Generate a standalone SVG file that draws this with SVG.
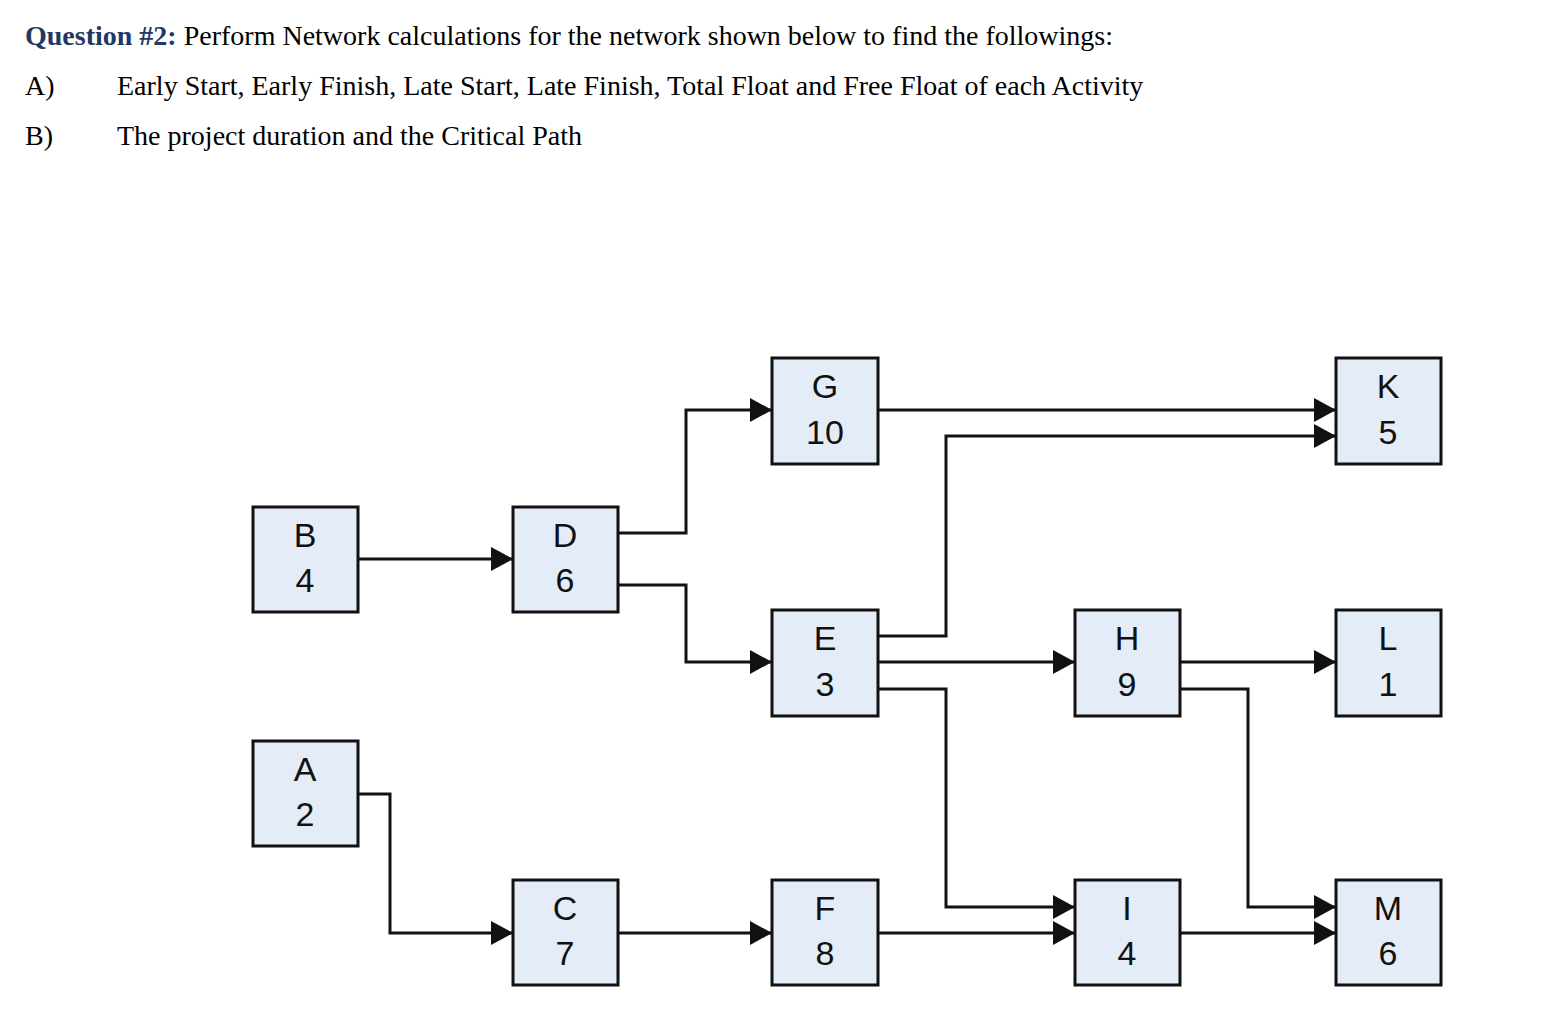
<svg xmlns="http://www.w3.org/2000/svg" width="1541" height="1024" viewBox="0 0 1541 1024">
<style>
.h{font-family:"Liberation Serif",serif;font-size:28px;fill:#000}
.q{font-weight:bold;fill:#1f3864}
.n rect{fill:#e4ecf7;stroke:#111;stroke-width:3}
.n text{font-family:"Liberation Sans",Arial,sans-serif;font-size:34px;fill:#111;text-anchor:middle}
.c path{fill:none;stroke:#111;stroke-width:3;marker-end:url(#a)}
</style>
<defs><marker id="a" markerUnits="userSpaceOnUse" markerWidth="24" markerHeight="26" refX="22" refY="12" orient="auto"><path d="M0,0 L22,12 L0,24 Z" fill="#111"/></marker></defs>
<rect width="1541" height="1024" fill="#fff"/>
<text class="h" x="25" y="45"><tspan class="q">Question #2:</tspan> Perform Network calculations for the network shown below to find the followings:</text>
<text class="h" x="25" y="95">A)</text>
<text class="h" x="117" y="95">Early Start, Early Finish, Late Start, Late Finish, Total Float and Free Float of each Activity</text>
<text class="h" x="25" y="145">B)</text>
<text class="h" x="117" y="145">The project duration and the Critical Path</text>
<g class="c">
<path d="M358,559 H513"/>
<path d="M618,533 H686 V410 H772"/>
<path d="M618,585 H686 V662 H772"/>
<path d="M878,410 H1336"/>
<path d="M878,636 H946 V436 H1336"/>
<path d="M878,662 H1075"/>
<path d="M878,689 H946 V907 H1075"/>
<path d="M1180,662 H1336"/>
<path d="M1180,689 H1248 V907 H1336"/>
<path d="M358,794 H390 V933 H513"/>
<path d="M618,933 H772"/>
<path d="M878,933 H1075"/>
<path d="M1180,933 H1336"/>
</g>
<g id="G" class="n"><rect x="772" y="358" width="106" height="106"/><text x="825" y="398">G</text><text x="825" y="444">10</text></g>
<g id="K" class="n"><rect x="1336" y="358" width="105" height="106"/><text x="1388" y="398">K</text><text x="1388" y="444">5</text></g>
<g id="B" class="n"><rect x="253" y="507" width="105" height="105"/><text x="305" y="547">B</text><text x="305" y="592">4</text></g>
<g id="D" class="n"><rect x="513" y="507" width="105" height="105"/><text x="565" y="547">D</text><text x="565" y="592">6</text></g>
<g id="E" class="n"><rect x="772" y="610" width="106" height="106"/><text x="825" y="650">E</text><text x="825" y="696">3</text></g>
<g id="H" class="n"><rect x="1075" y="610" width="105" height="106"/><text x="1127" y="650">H</text><text x="1127" y="696">9</text></g>
<g id="L" class="n"><rect x="1336" y="610" width="105" height="106"/><text x="1388" y="650">L</text><text x="1388" y="696">1</text></g>
<g id="A" class="n"><rect x="253" y="741" width="105" height="105"/><text x="305" y="781">A</text><text x="305" y="826">2</text></g>
<g id="C" class="n"><rect x="513" y="880" width="105" height="105"/><text x="565" y="920">C</text><text x="565" y="965">7</text></g>
<g id="F" class="n"><rect x="772" y="880" width="106" height="105"/><text x="825" y="920">F</text><text x="825" y="965">8</text></g>
<g id="I" class="n"><rect x="1075" y="880" width="105" height="105"/><text x="1127" y="920">I</text><text x="1127" y="965">4</text></g>
<g id="M" class="n"><rect x="1336" y="880" width="105" height="105"/><text x="1388" y="920">M</text><text x="1388" y="965">6</text></g>
</svg>
